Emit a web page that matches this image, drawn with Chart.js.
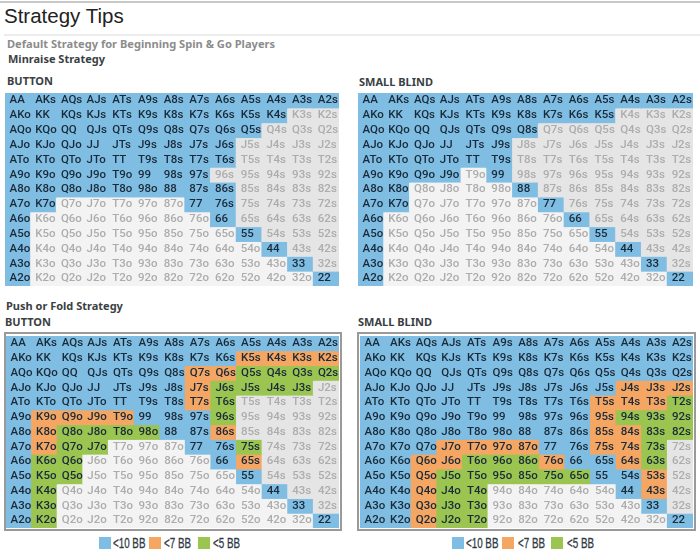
<!DOCTYPE html>
<html>
<head>
<meta charset="utf-8">
<title>Strategy Tips</title>
<script src="https://cdn.jsdelivr.net/npm/chart.js@4"></script>
<style>
  html, body { margin: 0; padding: 0; background: #fff; }
  body { position: relative; width: 700px; height: 554px; overflow: hidden; font-family: "Noto Sans", sans-serif; }
  .abs { position: absolute; white-space: nowrap; }
  .rule { position: absolute; left: 0; width: 700px; }
  h1 { margin: 0; font: 400 20.5px "Liberation Sans", sans-serif; color: #222; left: 4px; top: 4px; }
  .label { font-size: 11px; font-weight: 700; color: #3a3f44; line-height: 14px; }
  .label.faded { color: #8c8c8c; font-size: 11.1px; }
  .frame { position: absolute; border: 2px solid #9a9a9a; box-sizing: border-box; }
  canvas { position: absolute; }
  .swatch { position: absolute; width: 12px; height: 12px; top: 537px; }
  .key { font: 400 14px "Liberation Sans", sans-serif; color: #2f3a44; top: 535px; transform: scaleX(0.7); transform-origin: left center; -webkit-text-stroke: 0.3px #2f3a44; }
</style>
</head>
<body>
  <div class="rule" style="top:1px;height:2px;background:#c8c8c8"></div>
  <h1 class="abs">Strategy Tips</h1>
  <div class="rule" style="top:34px;height:2px;background:#ececec;left:4px"></div>

  <div class="abs label faded" style="left:7px;top:37px">Default Strategy for Beginning Spin &amp; Go Players</div>
  <div class="abs label" style="left:8px;top:52px">Minraise Strategy</div>
  <div class="abs label" style="left:7px;top:74px">BUTTON</div>
  <div class="abs label" style="left:359px;top:75px">SMALL BLIND</div>
  <div class="abs label" style="left:6px;top:299px">Push or Fold Strategy</div>
  <div class="abs label" style="left:5px;top:315px">BUTTON</div>
  <div class="abs label" style="left:358px;top:315px">SMALL BLIND</div>

  <div class="frame" style="left:4px;top:332px;width:338px;height:199px"></div>
  <div class="frame" style="left:357px;top:332px;width:339px;height:199px"></div>

  <canvas id="minraiseButtonChart" style="left:5px;top:93px" width="334" height="193"></canvas>
  <canvas id="minraiseSmallBlindChart" style="left:358px;top:93px" width="335" height="193"></canvas>
  <canvas id="pushButtonChart" style="left:6px;top:336px" width="333" height="192"></canvas>
  <canvas id="pushSmallBlindChart" style="left:360px;top:336px" width="333" height="192"></canvas>

  <div class="swatch" style="left:99px;background:#7fbee2"></div>
  <div class="abs key" style="left:113px">&lt;10 BB</div>
  <div class="swatch" style="left:149px;background:#f4a662"></div>
  <div class="abs key" style="left:164px">&lt;7 BB</div>
  <div class="swatch" style="left:198px;background:#9bc551"></div>
  <div class="abs key" style="left:213px">&lt;5 BB</div>

  <div class="swatch" style="left:452px;background:#7fbee2"></div>
  <div class="abs key" style="left:466px">&lt;10 BB</div>
  <div class="swatch" style="left:502px;background:#f4a662"></div>
  <div class="abs key" style="left:518px">&lt;7 BB</div>
  <div class="swatch" style="left:551px;background:#9bc551"></div>
  <div class="abs key" style="left:567px">&lt;5 BB</div>

<script>
// Ranks, high to low
const ranks = ['A', 'K', 'Q', 'J', 'T', '9', '8', '7', '6', '5', '4', '3', '2'];

// Chart values, one string per row: B = <10 BB, O = <7 BB, G = <5 BB, . = fold
const minraiseButton = [
  'BBBBBBBBBBBBB',
  'BBBBBBBBBBB..',
  'BBBBBBBBBB...',
  'BBBBBBBBB....',
  'BBBBBBBBB....',
  'BBBBBBBB.....',
  'BBBBBBBBB....',
  'BB.....BB....',
  'B.......B....',
  'B........B...',
  'B.........B..',
  'B..........B.',
  'B...........B'
];

const minraiseSmallBlind = [
  'BBBBBBBBBBBBB',
  'BBBBBBBBBB...',
  'BBBBBBB......',
  'BBBBBB.......',
  'BBBBBB.......',
  'BBBB.B.......',
  'BB....B......',
  'BB.....B.....',
  'B.......B....',
  'B........B...',
  'B.........B..',
  'B..........B.',
  'B...........B'
];

const pushButton = [
  'BBBBBBBBBBBBB',
  'BBBBBBBBBOOOO',
  'BBBBBBBOOGGGG',
  'BBBBBBBOGGGG.',
  'BBBBBBBOG....',
  'BOOOOBBBG....',
  'BOGGGGBBO....',
  'BOGG...BBG...',
  'BGG.....BO...',
  'BGG......B...',
  'BG........B..',
  'BG.........B.',
  'BG..........B'
];

const pushSmallBlind = [
  'BBBBBBBBBBBBB',
  'BBBBBBBBBBBBB',
  'BBBBBBBBBBBBB',
  'BBBBBBBBBBOOO',
  'BBBBBBBBBOOOG',
  'BBBBBBBBBOGGG',
  'BBBBBBBBBOOGG',
  'BBBOOOOBBOOG.',
  'BBOOGGGOBBOG.',
  'BBOGGGGGGBBO.',
  'BBOGG.....BO.',
  'BBOGG......B.',
  'BBOGG.......B'
];

const tierColors = { B: '#7fbee2', O: '#f4a662', G: '#9bc551' };
const suitedFold = '#e5e5e5';
const offsuitFold = '#f3f3f3';
const darkText = '#1a2a3a';
const foldText = '#adadad';

function handLabel(row, col) {
  if (row === col) return ranks[row] + ranks[col];
  if (col > row) return ranks[row] + ranks[col] + 's';
  return ranks[col] + ranks[row] + 'o';
}

function cellColor(code, row, col) {
  if (code !== '.') return tierColors[code];
  return col > row ? suitedFold : offsuitFold;
}

// Writes the hand name into each cell, using the chart's own scales
const handLabelsPlugin = {
  id: 'handLabels',
  afterDatasetsDraw(chart, args, opts) {
    const { ctx, scales: { x, y } } = chart;
    const cellWidth = x.getPixelForValue(1) - x.getPixelForValue(0);
    ctx.save();
    ctx.font = '500 11.5px Roboto, sans-serif';
    ctx.textAlign = 'left';
    ctx.textBaseline = 'middle';
    opts.grid.forEach((cells, row) => {
      ranks.forEach((rank, col) => {
        ctx.fillStyle = cells[col] === '.' ? foldText : darkText;
        const left = x.getPixelForValue(col) - cellWidth / 2;
        ctx.fillText(handLabel(row, col), left + opts.inset, y.getPixelForValue(row + 0.5));
      });
    });
    ctx.restore();
  }
};

function createGrid(canvasId, grid, inset) {
  const datasets = grid.map((cells, row) => ({
    label: ranks[row],
    data: ranks.map(() => [row, row + 1]),
    backgroundColor: ranks.map((rank, col) => cellColor(cells[col], row, col)),
    borderWidth: 0,
    inflateAmount: 0.5,
    barPercentage: 1,
    categoryPercentage: 1,
    grouped: false
  }));

  return new Chart(document.getElementById(canvasId), {
    type: 'bar',
    data: { labels: ranks, datasets },
    options: {
      responsive: false,
      animation: false,
      devicePixelRatio: 1,
      layout: { padding: 0 },
      scales: {
        x: { display: false, offset: true },
        y: { display: false, reverse: true, min: 0, max: ranks.length }
      },
      plugins: {
        legend: { display: false },
        tooltip: { enabled: false },
        handLabels: { grid, inset }
      }
    },
    plugins: [handLabelsPlugin]
  });
}

createGrid('minraiseButtonChart', minraiseButton, 4.5);
createGrid('minraiseSmallBlindChart', minraiseSmallBlind, 4.5);
createGrid('pushButtonChart', pushButton, 4.5);
createGrid('pushSmallBlindChart', pushSmallBlind, 4.5);
</script>
</body>
</html>
